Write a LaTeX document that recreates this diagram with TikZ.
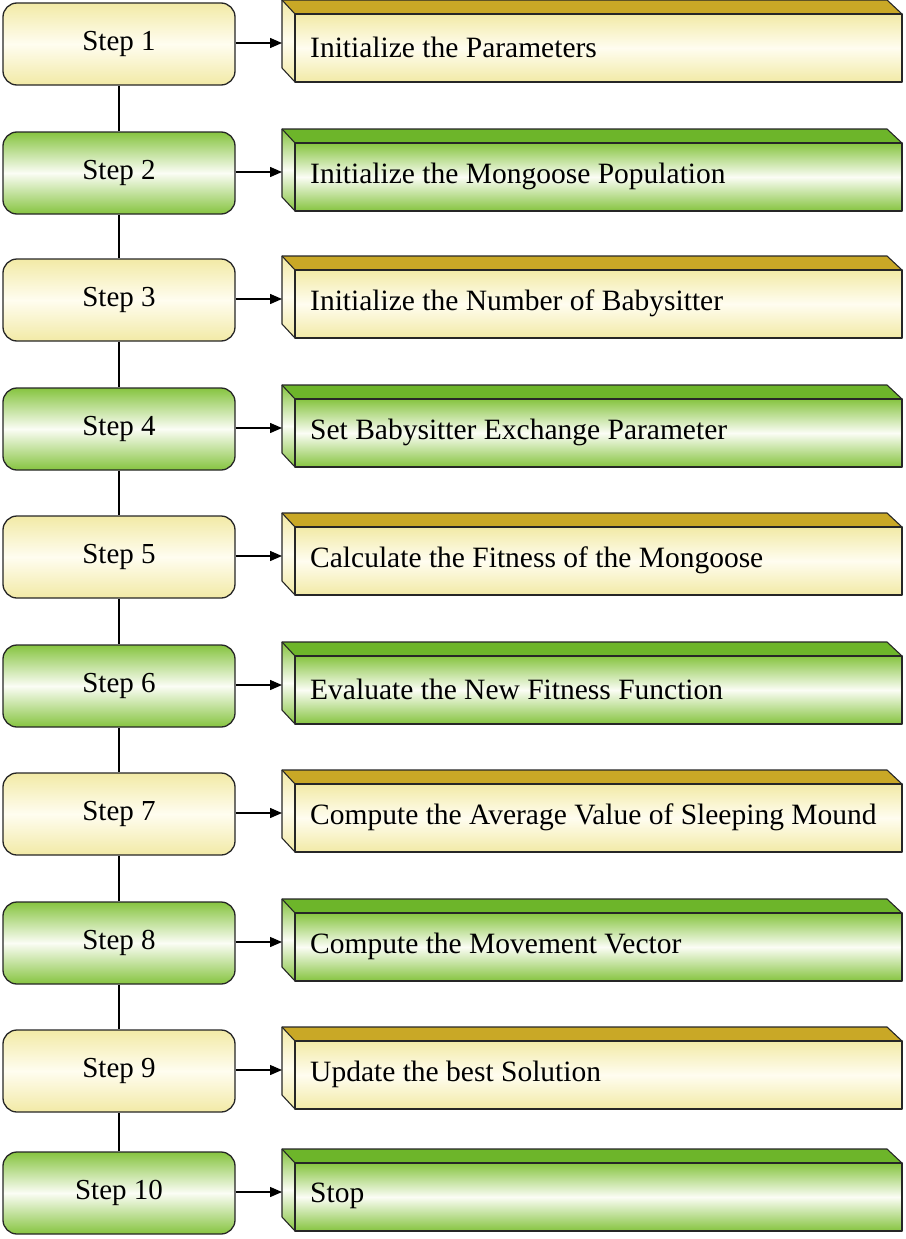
\documentclass[tikz,border=0pt]{standalone}
\usepackage{fontspec}
\setmainfont{Liberation Serif}
\usetikzlibrary{arrows.meta}
\definecolor{ylE}{HTML}{F2EAA6}
\definecolor{ylM}{HTML}{FFFDF0}
\definecolor{ylT}{HTML}{C9A826}
\definecolor{grE}{HTML}{86C440}
\definecolor{grM}{HTML}{FBFDF5}
\definecolor{grT}{HTML}{6DB52A}
\tikzset{
  stepbox/.style={draw=black!85,line width=1.3pt,rounded corners=14pt,minimum width=232pt,minimum height=82pt,font=\fontsize{29}{31}\selectfont},
  ylbox/.style={top color=ylE,bottom color=ylE,middle color=ylM},
  grbox/.style={top color=grE,bottom color=grE,middle color=grM},
  edge3/.style={draw=black!85,line width=1.1pt,line join=round},
  arr/.style={-{Triangle[length=12pt,width=10pt]},line width=1.4pt},
  conn/.style={line width=1.3pt},
  lbl/.style={anchor=west,font=\fontsize{29.5}{31}\selectfont,inner sep=0pt}
}
\newcommand{\onerow}[4]{% index, center y, colour prefix, text
  \node[stepbox,#3box] (s#1) at (119,#2) {Step #1};
  \fill[#3T] (282,#2-44) -- (887,#2-44) -- (902,#2-30) -- (295,#2-30) -- cycle;
  \shade[#3box] (282,#2-44) -- (295,#2-30) -- (295,#2+38) -- (282,#2+24) -- cycle;
  \draw[edge3] (282,#2+24) -- (282,#2-44) -- (887,#2-44) -- (902,#2-30);
  \draw[edge3] (282,#2-44) -- (295,#2-30);
  \draw[edge3] (282,#2+24) -- (295,#2+38);
  \node[edge3,#3box,minimum width=607pt,minimum height=68pt,inner sep=0pt] (b#1) at (598.5,#2+4) {};
  \node[lbl] (t#1) at (310,#2+3) {#4};
  \coordinate (a#1) at (282,#2-1);
  \draw[arr] (s#1.east|-a#1) -- (a#1);
}
\begin{document}
\begin{tikzpicture}[x=1pt,y=-1pt]
\useasboundingbox (0,0) rectangle (905,1239);
\onerow{1}{44}{yl}{Initialize the Parameters}
\onerow{2}{173}{gr}{Initialize the Mongoose Population}
\onerow{3}{300}{yl}{Initialize the Number of Babysitter}
\onerow{4}{429}{gr}{Set Babysitter Exchange Parameter}
\onerow{5}{557}{yl}{Calculate the Fitness of the Mongoose}
\onerow{6}{686}{gr}{Evaluate the New Fitness Function}
\onerow{7}{814}{yl}{Compute the Average Value of Sleeping Mound}
\onerow{8}{943}{gr}{Compute the Movement Vector}
\onerow{9}{1071}{yl}{Update the best Solution}
\onerow{10}{1193}{gr}{Stop}
\foreach \i [count=\j from 2] in {1,...,9}
  \draw[conn] (s\i.south) -- (s\j.north);
\end{tikzpicture}
\end{document}
